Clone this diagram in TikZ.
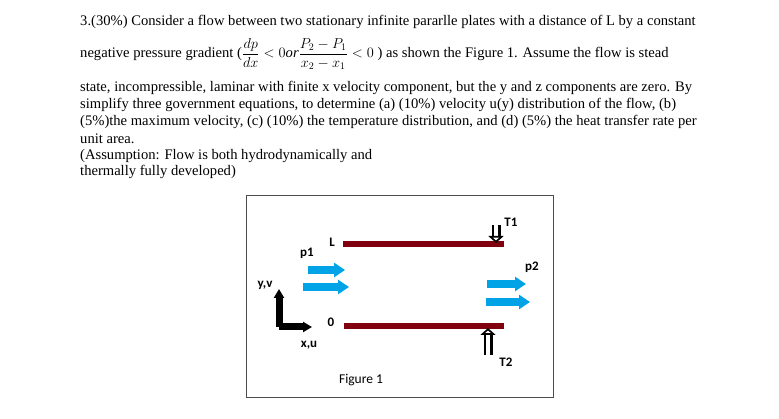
\documentclass[tikz,border=0pt]{standalone}
\usepackage{amsmath}
\usepackage{fontspec}
\setmainfont{Liberation Serif}
\newfontfamily\calfont{Carlito}
\usetikzlibrary{arrows.meta}
\definecolor{plate}{RGB}{128,0,16}
\definecolor{flow}{RGB}{0,164,230}
\tikzset{txt/.style={anchor=west,inner sep=0pt,font=\fontsize{14.6}{16}\selectfont},
 lab/.style={inner sep=0pt,font=\calfont\bfseries\fontsize{13}{15}\selectfont},
 platebar/.style={draw=plate,line width=6pt},
 farrow/.style={draw=flow,line width=8pt,-{Triangle[length=11pt,width=14pt]}},
 karrow/.style={draw=black,line width=7pt,-{Triangle[length=9pt,width=10pt]}},
 tarrow/.style={draw=black,double=white,double distance=4pt,line width=2.5pt,-{Triangle[length=7pt,width=15pt,open,fill=white,line width=2.5pt]}}}
\begin{document}
\begin{tikzpicture}[x=1pt,y=-1pt]
\useasboundingbox (0,0) rectangle (779,419);
\node[txt] (l1) at (80,22) {3.(30\%) Consider a flow between two stationary infinite pararlle plates with a distance of L by a constant};
\node[txt] (l2) at (80,54) {negative pressure gradient ($\dfrac{dp}{dx}<0\mathit{or}\dfrac{P_2-P_1}{x_2-x_1}<0$\ ) as shown the Figure 1. Assume the flow is stead};
\node[txt] (l3) at (80,88) {state, incompressible, laminar with finite x velocity component, but the y and z components are zero. By};
\node[txt] (l4) at (80,105) {simplify three government equations, to determine (a) (10\%) velocity u(y) distribution of the flow, (b)};
\node[txt] (l5) at (80,122) {(5\%)the maximum velocity, (c) (10\%) the temperature distribution, and (d) (5\%) the heat transfer rate per};
\node[txt] (l6) at (80,139) {unit area.};
\node[txt] (l7) at (80,156) {(Assumption: Flow is both hydrodynamically and};
\node[txt] (l8) at (80,172) {thermally fully developed)};
\node[draw=black!70,line width=1pt,minimum width=307pt,minimum height=202pt,anchor=north west] (fig) at (246,195) {};
\coordinate (ta) at (343,244); \coordinate (tb) at (504,244);
\coordinate (ba) at (344,326); \coordinate (bb) at (504,326);
\draw[platebar] (ta) -- (tb);
\draw[platebar] (ba) -- (bb);
\node[lab] (L) at (332,242) {L};
\node[lab] (z) at (331,322) {0};
\node[lab] (p1) at (307,253) {p1};
\node[lab] (p2) at (532,267) {p2};
\node[lab] (yv) at (265,285) {y,v};
\node[lab] (xu) at (309,345) {x,u};
\node[lab] (T1) at (511,222) {T1};
\node[lab] (T2) at (506,362) {T2};
\node[lab,font=\calfont\fontsize{13.5}{15}\selectfont] (cap) at (361,380) {Figure 1};
\coordinate (o) at (279,327);
\coordinate (oy) at (279,289); \coordinate (ox) at (312,327);
\draw[karrow] (o) -- (oy);
\draw[karrow] (o) -- (ox);
\coordinate (a1) at (308,270); \coordinate (a1e) at (345,270);
\coordinate (a2) at (303,287); \coordinate (a2e) at (349,287);
\coordinate (a3) at (487,284); \coordinate (a3e) at (526,284);
\coordinate (a4) at (486,302); \coordinate (a4e) at (530,302);
\draw[farrow] (a1) -- (a1e);
\draw[farrow] (a2) -- (a2e);
\draw[farrow] (a3) -- (a3e);
\draw[farrow] (a4) -- (a4e);
\coordinate (t1s) at (496,225); \coordinate (t1e) at (496,243);
\coordinate (t2s) at (488,355); \coordinate (t2e) at (488,328);
\draw[tarrow] (t1s) -- (t1e);
\draw[tarrow] (t2s) -- (t2e);
\end{tikzpicture}
\end{document}
